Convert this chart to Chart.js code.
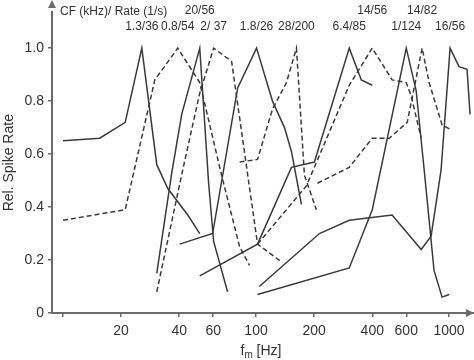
<!DOCTYPE html>
<html><head><meta charset="utf-8">
<script src="https://cdn.jsdelivr.net/npm/chart.js@4.4.1/dist/chart.umd.min.js"></script>
<style>html,body{margin:0;padding:0;background:#fff}canvas{display:block}</style>
</head><body>
<canvas id="c" width="474" height="360"></canvas>
<script>
// ---- data ----
const seriesLabels = ['1.3/36','0.8/54','20/56','2/ 37','1.8/26','28/200','6.4/85','14/56','1/124','14/82','16/56'];
const seriesDashed = [false,true,false,true,false,true,false,true,false,true,false];
const labelRow     = [0,0,1,0,0,0,0,1,0,1,0];

const fm1 = [10, 15.5, 21, 25.6, 30.6, 34.9, 44.3, 51.1];
const r1  = [0.65, 0.66, 0.72, 1.0, 0.56, 0.47, 0.37, 0.30];
const fm2 = [10, 21, 29.9, 39.3, 51.1, 66.3, 82.2, 92.5];
const r2  = [0.35, 0.39, 0.88, 1.0, 0.87, 0.52, 0.25, 0.18];
const fm3 = [30.6, 36.6, 41.2, 51.1, 56.8, 60.3, 71.2];
const r3  = [0.15, 0.53, 0.75, 1.0, 0.49, 0.27, 0.08];
const fm4 = [30.6, 41.7, 51.1, 60.3, 74.7, 101.8, 137];
const r4  = [0.08, 0.54, 0.83, 1.0, 0.95, 0.26, 0.19];
const fm5 = [40.2, 59.6, 80.3, 100.6, 121.7, 140.4, 152.5, 171.8];
const r5  = [0.26, 0.30, 0.85, 1.0, 0.80, 0.70, 0.61, 0.41];
const fm6 = [82.2, 101.8, 121.7, 143.7, 161.9, 178.1, 205.4];
const r6  = [0.57, 0.58, 0.77, 0.87, 1.0, 0.52, 0.39];
const fm7 = [51.1, 101.8, 152.5, 200.6, 304, 351, 400];
const r7  = [0.14, 0.26, 0.55, 0.57, 1.0, 0.88, 0.86];
const fm8 = [101.8, 182.4, 304, 400, 507, 600, 636, 717];
const r8  = [0.26, 0.48, 0.86, 1.0, 0.88, 0.87, 0.82, 0.66];
const fm9 = [101.8, 304, 400, 600, 675, 743, 836, 920, 1000];
const r9  = [0.07, 0.17, 0.39, 1.0, 0.84, 0.54, 0.16, 0.06, 0.07];
const fm10 = [208, 304, 400, 490, 607, 725, 788, 920, 1036];
const r10  = [0.49, 0.55, 0.66, 0.66, 0.72, 1.0, 0.87, 0.71, 0.69];
const fm11 = [104, 213, 304, 507, 717, 807, 909, 1012, 1126, 1239, 1284];
const r11  = [0.10, 0.30, 0.35, 0.37, 0.24, 0.29, 0.54, 1.0, 0.93, 0.92, 0.75];

const xTickValues = [10, 20, 40, 60, 100, 200, 400, 600, 1000];
const xTickLabels = ['', '20', '40', '60', '100', '200', '400', '600', '1000'];
const yTickValues = [0, 0.2, 0.4, 0.6, 0.8, 1.0];
const yTickLabels = ['0', '0.2', '0.4', '0.6', '0.8', '1.0'];

const fmList = [fm1,fm2,fm3,fm4,fm5,fm6,fm7,fm8,fm9,fm10,fm11];
const rList  = [r1,r2,r3,r4,r5,r6,r7,r8,r9,r10,r11];

// ---- style ----
const FONT = "'Liberation Sans', Arial, sans-serif";
const ink = '#333333';
const lineCol = '#3a3a3a';
const axisCol = '#6a6a6a';

const datasets = fmList.map((fm, i) => ({
  label: seriesLabels[i],
  data: fm.map((f, j) => ({x: f, y: rList[i][j]})),
  borderColor: lineCol,
  borderWidth: 1.5,
  borderDash: seriesDashed[i] ? [5, 3] : [],
  pointRadius: 0,
  fill: false,
  tension: 0
}));

const annot = {
  id: 'annot',
  afterDatasetsDraw(chart) {
    const {ctx, chartArea: a, scales: {x, y}} = chart;
    ctx.save();
    ctx.fillStyle = axisCol;
    ctx.beginPath();
    ctx.moveTo(a.left, 0); ctx.lineTo(a.left - 4, 8); ctx.lineTo(a.left + 4, 8);
    ctx.closePath(); ctx.fill();
    const yb = y.getPixelForValue(0);
    ctx.beginPath();
    ctx.moveTo(474, yb); ctx.lineTo(466, yb - 4); ctx.lineTo(466, yb + 4);
    ctx.closePath(); ctx.fill();

    ctx.fillStyle = ink;
    ctx.textBaseline = 'middle';
    ctx.font = '12px ' + FONT;
    ctx.textAlign = 'left';
    ctx.fillText('CF (kHz)/ Rate (1/s)', 60, 12);
    ctx.textAlign = 'center';
    rList.forEach((r, i) => {
      let k = 0;
      r.forEach((v, j) => { if (v > r[k]) k = j; });
      const px = x.getPixelForValue(fmList[i][k]);
      ctx.fillText(seriesLabels[i], px, labelRow[i] ? 11 : 27);
    });

    // x title with subscript
    ctx.textBaseline = 'alphabetic';
    ctx.textAlign = 'left';
    const big = '14px ' + FONT, small = '10px ' + FONT;
    ctx.font = big; const w1 = ctx.measureText('f').width;
    ctx.font = small; const w2 = ctx.measureText('m').width;
    ctx.font = big; const w3 = ctx.measureText(' [Hz]').width;
    const cx = (a.left + a.right) / 2 - 2;
    let sx = cx - (w1 + w2 + w3) / 2;
    const by = 355;
    ctx.font = big; ctx.fillText('f', sx, by); sx += w1;
    ctx.font = small; ctx.fillText('m', sx, by + 3); sx += w2;
    ctx.font = big; ctx.fillText(' [Hz]', sx, by);
    ctx.restore();
  }
};

new Chart(document.getElementById('c').getContext('2d'), {
  type: 'line',
  data: {datasets},
  options: {
    responsive: false,
    animation: false,
    layout: {padding: {left: 0, right: 0, top: 2, bottom: 0}},
    plugins: {legend: {display: false}, tooltip: {enabled: false}},
    scales: {
      x: {
        type: 'logarithmic', min: 8.77, max: 1346,
        afterBuildTicks: s => { s.ticks = xTickValues.map(v => ({value: v})); },
        afterFit: s => { s.height = 47; },
        ticks: {autoSkip: false, maxRotation: 0, padding: 6, color: ink,
                font: {family: FONT, size: 14},
                callback: (v, i) => xTickLabels[i]},
        grid: {drawOnChartArea: false, drawTicks: true, tickLength: 4, color: axisCol, lineWidth: 1.5},
        border: {display: true, color: axisCol, width: 2}
      },
      y: {
        min: 0, max: 1.135,
        afterBuildTicks: s => { s.ticks = yTickValues.map(v => ({value: v})); },
        afterFit: s => { s.width = 52; },
        ticks: {padding: 4, color: ink, font: {family: FONT, size: 14},
                callback: (v, i) => yTickLabels[i]},
        grid: {drawOnChartArea: false, drawTicks: true, tickLength: 4, color: axisCol, lineWidth: 1.5},
        border: {display: true, color: axisCol, width: 2},
        title: {display: true, text: 'Rel. Spike Rate', color: ink,
                font: {family: FONT, size: 14}, padding: {top: 1, bottom: 0}}
      }
    }
  },
  plugins: [annot]
});
</script>
</body></html>
